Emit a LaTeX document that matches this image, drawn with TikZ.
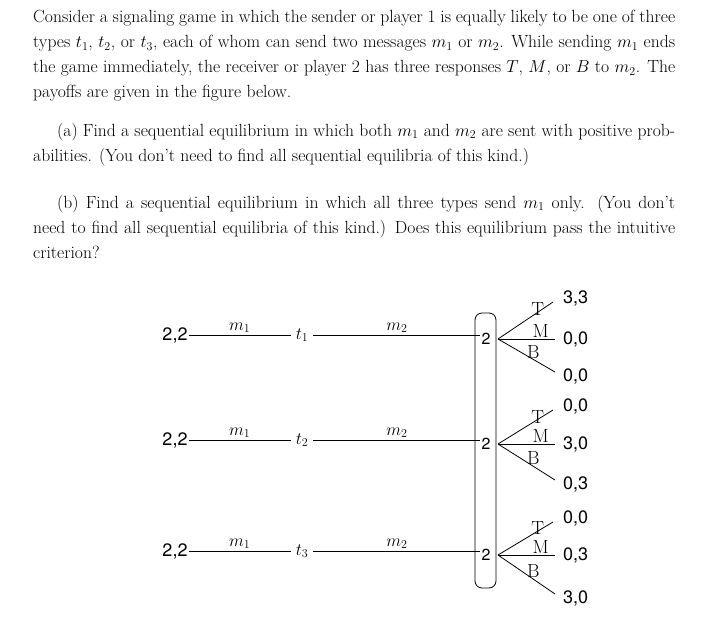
\documentclass[tikz,border=0pt]{standalone}
\usepackage{fontspec}
\newfontfamily\hv{TeX Gyre Heros}
\begin{document}
\begin{tikzpicture}[x=1pt,y=-1pt,
  txt/.style={anchor=north west,inner sep=0,text width=642pt,align=justify,font=\fontsize{17.6}{25}\selectfont},
  pay/.style={font=\hv\fontsize{18}{18}\selectfont,inner sep=1pt},
  lab/.style={font=\fontsize{18}{18}\selectfont,inner sep=1pt},
  tl/.style={font=\fontsize{19}{19}\selectfont,inner sep=0pt},
  br/.style={line width=0.8pt}]
\useasboundingbox (0,0) rectangle (712,623);
\node[txt] (p1) at (33,10) {Consider a signaling game in which the sender or player 1 is equally likely to be one of three types $t_1$, $t_2$, or $t_3$, each of whom can send two messages $m_1$ or $m_2$. While sending $m_1$ ends the game immediately, the receiver or player 2 has three responses $T$, $M$, or $B$ to $m_2$. The payoffs are given in the figure below.};
\node[txt] (p2) at (33,123) {\hspace*{24pt}(a) Find a sequential equilibrium in which both $m_1$ and $m_2$ are sent with positive probabilities. (You don't need to find all sequential equilibria of this kind.)};
\node[txt] (p3) at (33,195) {\hspace*{24pt}(b) Find a sequential equilibrium in which all three types send $m_1$ only. (You don't need to find all sequential equilibria of this kind.) Does this equilibrium pass the intuitive criterion?};
\draw[br,rounded corners=7pt] (475,313) rectangle (496,588);
\foreach \i/\y/\pa/\pb/\pc/\ta/\tb/\tc in {1/339/{3,3}/{0,0}/{0,0}/302/339/372,2/444/{0,0}/{3,0}/{0,3}/410/444/480,3/555/{0,0}/{0,3}/{3,0}/522/555/594}{
  \node[pay,font=\hv\fontsize{16}{16}\selectfont] (d\i) at (486,\y) {2};
  \node[pay] (q\i) at (175,\y-4) {2,2};
  \node[lab,inner sep=5pt] (t\i) at (302,\y-4) {$t_\i$};
  \draw[br] (q\i.east) -- (t\i.west) node[lab,midway,above=1pt] {$m_1$};
  \draw[br] (t\i.east) -- (d\i.west |- t\i) node[lab,midway,above=1pt] {$m_2$};
  \coordinate (o\i) at (498,\y);
  \coordinate (eT\i) at (553,\ta);
  \coordinate (eM\i) at (555,\tb);
  \coordinate (eB\i) at (555,\tc);
  \draw[br] (o\i) -- (eT\i) node[tl,pos=0.72,above=-4pt] {T};
  \draw[br] (o\i) -- (eM\i) node[tl,pos=0.75,above=1pt] {M};
  \draw[br] (o\i) -- (eB\i) node[tl,pos=0.62,above=1pt] {B};
  \node[pay,anchor=west] at (562,\ta-4) {\pa};
  \node[pay,anchor=west] at (562,\tb) {\pb};
  \node[pay,anchor=west] at (562,\tc+4) {\pc};
}
\end{tikzpicture}
\end{document}
